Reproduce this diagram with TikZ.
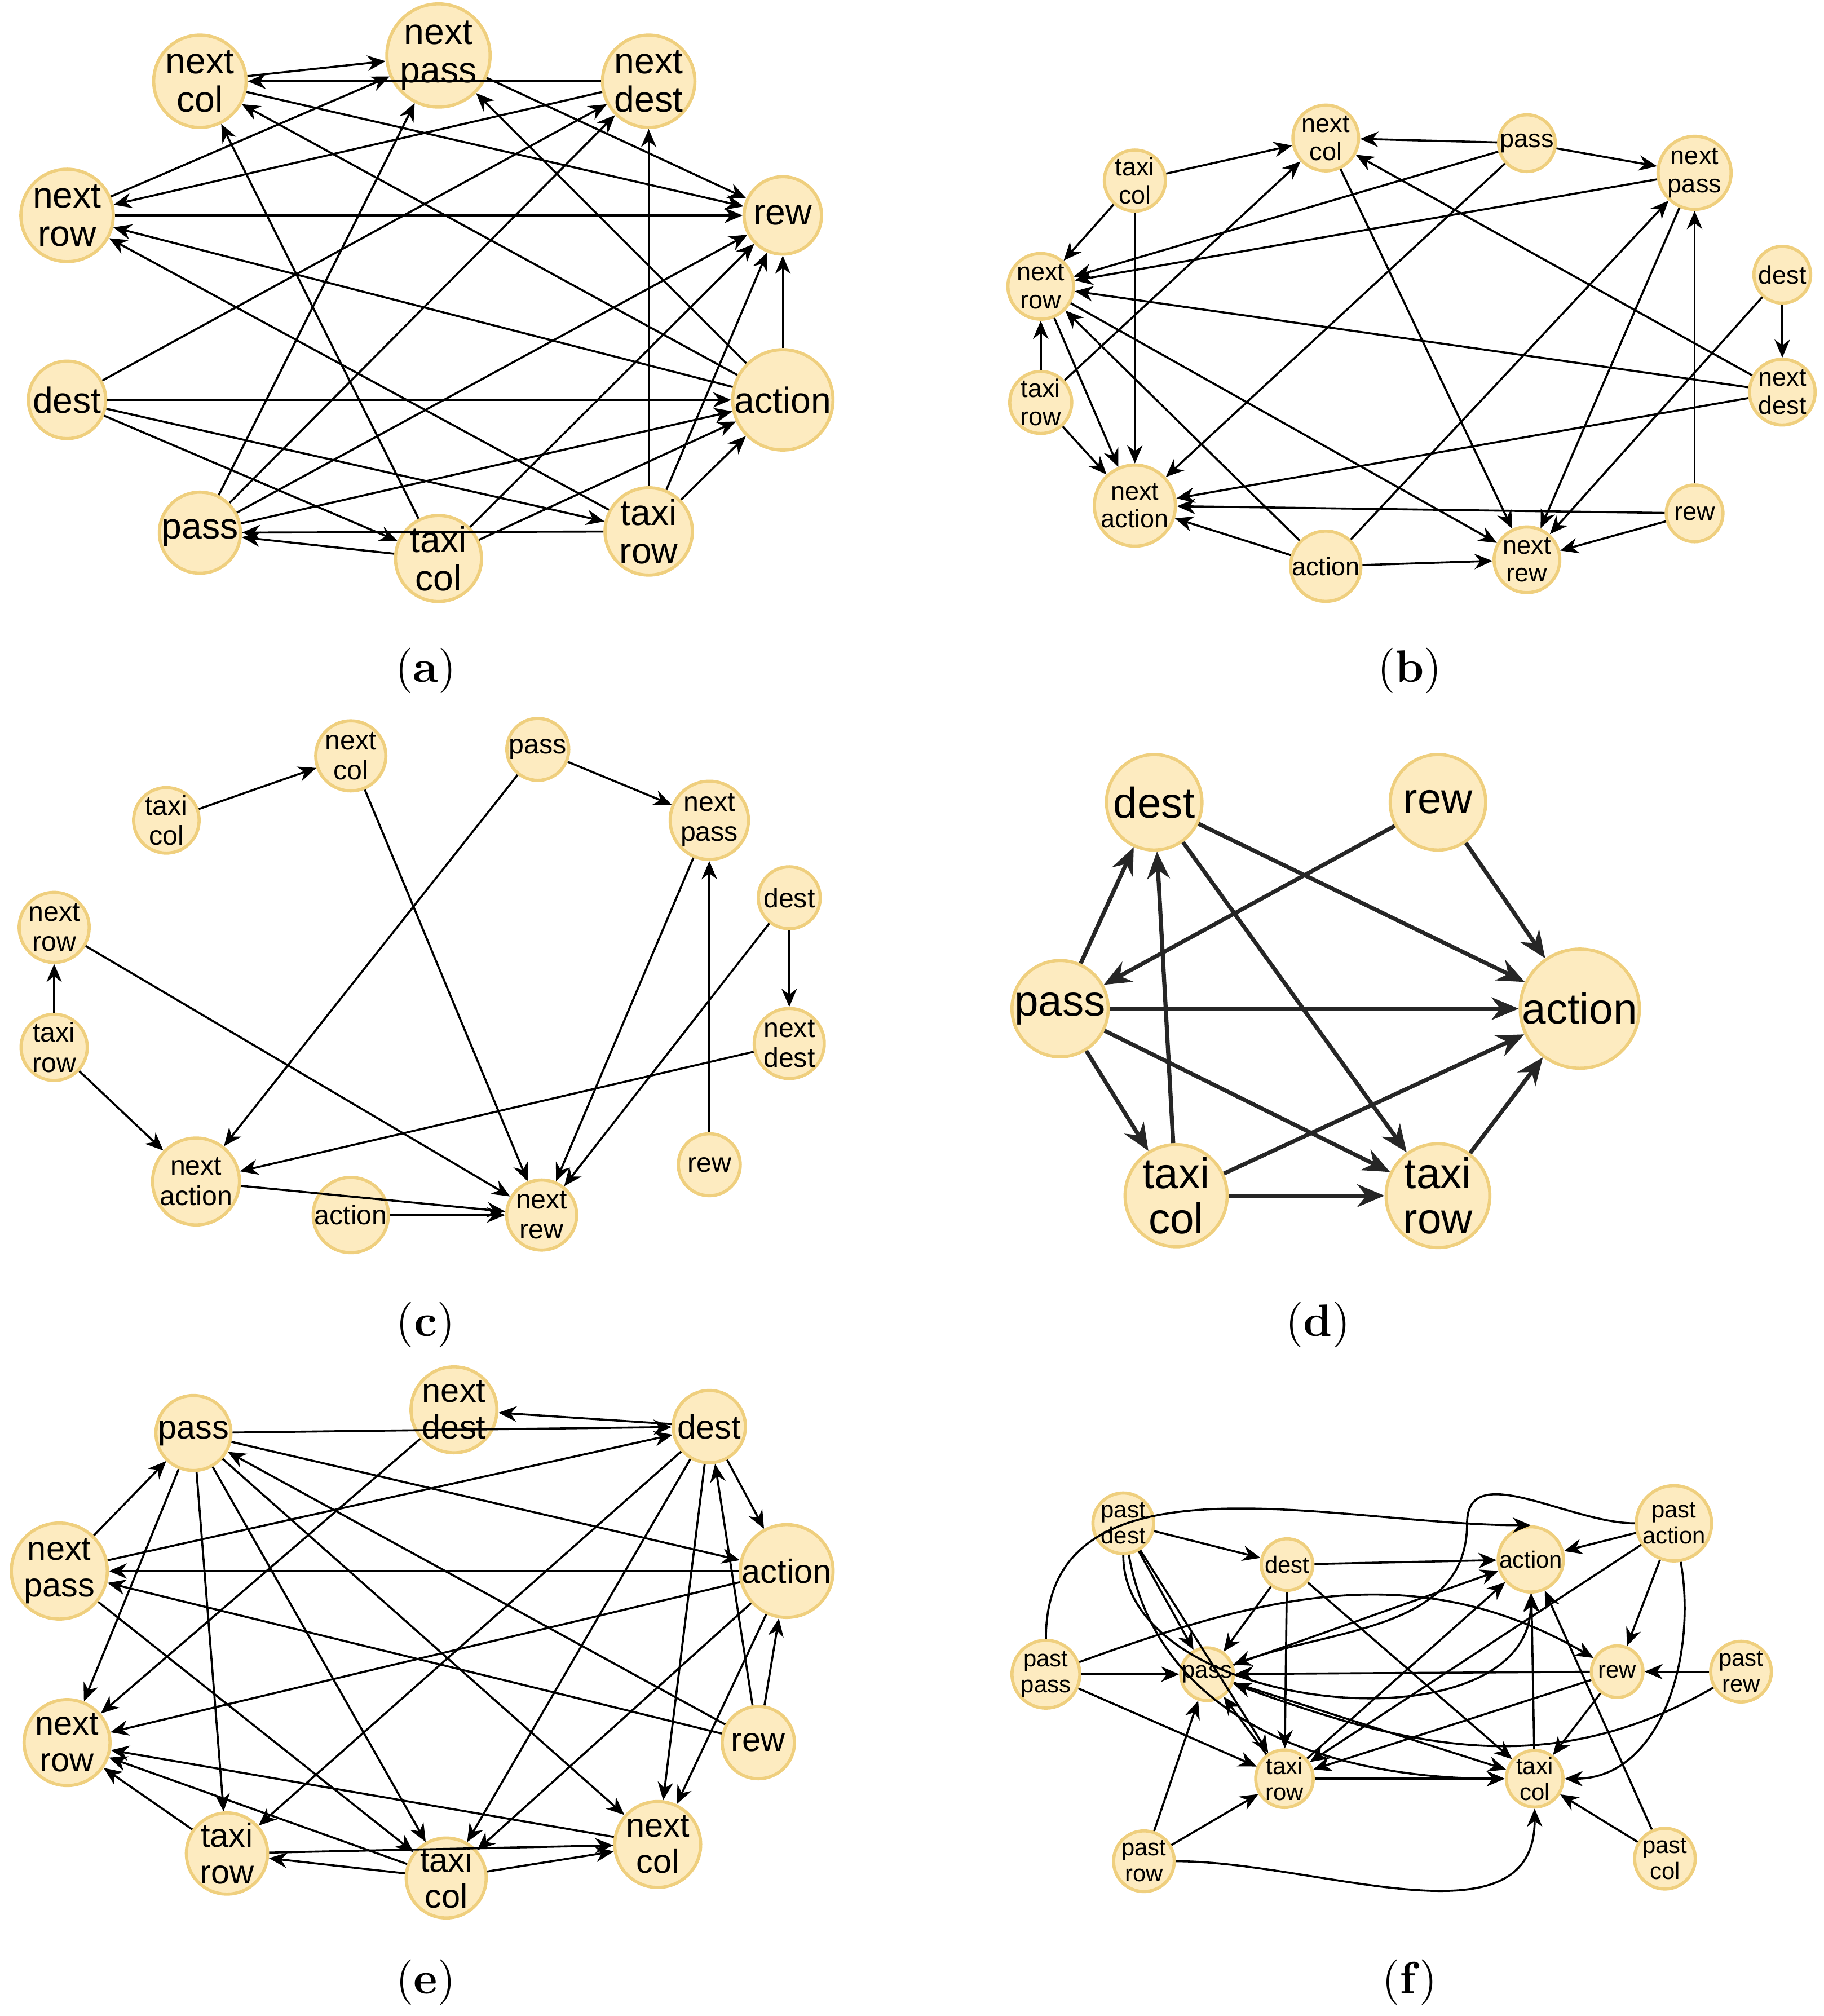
\documentclass[tikz,border=0pt]{standalone}
\usepackage{fontspec}
\setmainfont{Liberation Sans}
\newfontfamily\capfont{Latin Modern Roman}
\usetikzlibrary{arrows.meta}
\definecolor{nfill}{HTML}{FDEBC0}
\definecolor{nline}{HTML}{EFCF7E}
\begin{document}
\begin{tikzpicture}[x=0.01cm,y=-0.01cm,
 nd/.style={circle,fill=nfill,draw=nline,line width=0.7pt,inner sep=0pt,align=center,text=black},
 na/.style={nd,minimum size=0.6cm,font=\fontsize{8}{8.5}\selectfont},
 nb/.style={nd,minimum size=0.44cm,font=\fontsize{5.6}{6.2}\selectfont},
 nc/.style={nd,minimum size=0.48cm,font=\fontsize{6}{6.6}\selectfont},
 ndd/.style={nd,minimum size=0.74cm,font=\fontsize{9.5}{10}\selectfont},
 ne/.style={nd,minimum size=0.56cm,font=\fontsize{7.4}{8}\selectfont},
 nf/.style={nd,minimum size=0.4cm,font=\fontsize{5.2}{5.7}\selectfont},
 e/.style={-{Stealth[length=4pt,width=3.4pt]},line width=0.45pt},
 ed/.style={-{Stealth[length=6pt,width=5pt]},line width=0.9pt,draw=black!85},
 captxt/.style={font=\capfont\fontsize{10}{12}\selectfont}]
\useasboundingbox (0,0) rectangle (1414,1563);
% ---------- (a)
\node[na] (aNC) at (155,63) {next\\col};
\node[na] (aNP) at (340,43) {next\\pass};
\node[na] (aND) at (503,63) {next\\dest};
\node[na] (aRW) at (607,167) {rew};
\node[na] (aAC) at (607,310) {action};
\node[na] (aTR) at (503,412) {taxi\\row};
\node[na] (aTC) at (340,433) {taxi\\col};
\node[na] (aPA) at (155,413) {pass};
\node[na] (aDE) at (52,310) {dest};
\node[na] (aNR) at (52,167) {next\\row};
\foreach \a/\b in {aNC/aNP,aNC/aRW,aND/aNC,aAC/aNC,aTC/aNC,aNP/aRW,aAC/aNP,aNR/aNP,aNR/aRW,aND/aNR,aAC/aNR,aTR/aNR,aDE/aND,aDE/aAC,aDE/aTR,aDE/aTC,aPA/aNP,aPA/aRW,aPA/aAC,aTR/aPA,aTC/aPA,aPA/aND,aTC/aRW,aTC/aAC,aTR/aND,aTR/aRW,aTR/aAC,aAC/aRW}
 \draw[e] (\a) -- (\b);
\node[captxt] (capa) at (330,520) {(\textbf{a})};
% ---------- (b)
\node[nb] (bTC) at (880,140) {taxi\\col};
\node[nb] (bNC) at (1028,107) {next\\col};
\node[nb] (bPA) at (1184,111) {pass};
\node[nb] (bNP) at (1314,134) {next\\pass};
\node[nb] (bDE) at (1382,213) {dest};
\node[nb] (bND) at (1382,304) {next\\dest};
\node[nb] (bRW) at (1314,398) {rew};
\node[nb] (bNW) at (1184,434) {next\\rew};
\node[nb] (bAC) at (1028,439) {action};
\node[nb] (bNA) at (880,392) {next\\action};
\node[nb] (bTR) at (807,312) {taxi\\row};
\node[nb] (bNR) at (807,222) {next\\row};
\foreach \a/\b in {bTC/bNC,bTC/bNR,bTC/bNA,bPA/bNC,bPA/bNP,bPA/bNR,bPA/bNA,bNP/bNR,bNC/bNW,bND/bNC,bND/bNR,bND/bNA,bDE/bND,bDE/bNW,bRW/bNP,bRW/bNW,bRW/bNA,bAC/bNW,bAC/bNA,bAC/bNP,bAC/bNR,bTR/bNR,bTR/bNC,bTR/bNA,bNR/bNW,bNR/bNA,bNP/bNW}
 \draw[e] (\a) -- (\b);
\node[captxt] (capb) at (1093,520) {(\textbf{b})};
% ---------- (c)
\node[nc] (cTC) at (129,636) {taxi\\col};
\node[nc] (cNC) at (272,586) {next\\col};
\node[nc] (cPA) at (417,581) {pass};
\node[nc] (cNP) at (550,636) {next\\pass};
\node[nc] (cDE) at (612,696) {dest};
\node[nc] (cND) at (612,809) {next\\dest};
\node[nc] (cRW) at (550,903) {rew};
\node[nc] (cNW) at (420,942) {next\\rew};
\node[nc] (cAC) at (272,942) {action};
\node[nc] (cNA) at (152,916) {next\\action};
\node[nc] (cTR) at (42,812) {taxi\\row};
\node[nc] (cNR) at (42,719) {next\\row};
\foreach \a/\b in {cTC/cNC,cNC/cNW,cPA/cNP,cPA/cNA,cNP/cNW,cDE/cND,cDE/cNW,cND/cNA,cRW/cNP,cAC/cNW,cNA/cNW,cNR/cNW,cTR/cNR,cTR/cNA}
 \draw[e] (\a) -- (\b);
\node[captxt] (capc) at (330,1027) {(\textbf{c})};
% ---------- (d)
\node[ndd] (dDE) at (895,622) {dest};
\node[ndd] (dRW) at (1115,622) {rew};
\node[ndd] (dPA) at (822,782) {pass};
\node[ndd] (dAC) at (1225,782) {action};
\node[ndd] (dTC) at (912,927) {taxi\\col};
\node[ndd] (dTR) at (1115,927) {taxi\\row};
\foreach \a/\b in {dDE/dAC,dDE/dTR,dRW/dPA,dRW/dAC,dPA/dDE,dPA/dAC,dPA/dTR,dPA/dTC,dTC/dDE,dTC/dAC,dTC/dTR,dTR/dAC}
 \draw[ed] (\a) -- (\b);
\node[captxt] (capd) at (1022,1027) {(\textbf{d})};
% ---------- (e)
\node[ne] (ePA) at (150,1111) {pass};
\node[ne] (eND) at (352,1093) {next\\dest};
\node[ne] (eDE) at (550,1106) {dest};
\node[ne] (eAC) at (610,1218) {action};
\node[ne] (eRW) at (588,1351) {rew};
\node[ne] (eNC) at (510,1430) {next\\col};
\node[ne] (eTC) at (346,1456) {taxi\\col};
\node[ne] (eTR) at (176,1437) {taxi\\row};
\node[ne] (eNR) at (52,1351) {next\\row};
\node[ne] (eNP) at (46,1218) {next\\pass};
\foreach \a/\b in {eDE/eND,eNP/ePA,eNP/eDE,eNP/eTC,eAC/eNP,eRW/eNP,ePA/eDE,ePA/eAC,ePA/eNR,ePA/eTR,ePA/eNC,ePA/eTC,eRW/ePA,eND/eNR,eDE/eAC,eDE/eTR,eDE/eTC,eDE/eNC,eRW/eDE,eRW/eAC,eAC/eNC,eAC/eNR,eAC/eTC,eTC/eTR,eTC/eNC,eTC/eNR,eTR/eNR,eTR/eNC,eNC/eNR}
 \draw[e] (\a) -- (\b);
\node[captxt] (cape) at (330,1537) {(\textbf{e})};
% ---------- (f)
\node[nf] (fPD) at (871,1181) {past\\dest};
\node[nf] (fDE) at (998,1213) {dest};
\node[nf] (fAC) at (1187,1209) {action};
\node[nf] (fPA) at (1298,1181) {past\\action};
\node[nf] (fPP) at (811,1298) {past\\pass};
\node[nf] (fPS) at (936,1298) {pass};
\node[nf] (fRW) at (1254,1296) {rew};
\node[nf] (fPR) at (1350,1296) {past\\rew};
\node[nf] (fTR) at (996,1379) {taxi\\row};
\node[nf] (fTC) at (1190,1379) {taxi\\col};
\node[nf] (fPW) at (887,1443) {past\\row};
\node[nf] (fPC) at (1291,1441) {past\\col};
\foreach \a/\b in {fPD/fDE,fPD/fPS,fPD/fTR,fDE/fAC,fDE/fPS,fDE/fTR,fDE/fTC,fPA/fAC,fPA/fRW,fPA/fTR,fPP/fPS,fPP/fTR,fPS/fAC,fPS/fTC,fRW/fPS,fRW/fTC,fPR/fRW,fTR/fAC,fTR/fTC,fTR/fPS,fTC/fAC,fPW/fPS,fPW/fTR,fPC/fTC,fPC/fAC,fRW/fTR}
 \draw[e] (\a) -- (\b);
\draw[e] (fPD) to[out=-80,in=180] (fTC);
\draw[e] (fPA) to[out=-80,in=0] (fTC);
\draw[e] (fPA.west) to[out=180,in=90] ++(-130,0) to[out=-90,in=20] (fPS);
\draw[e] (fPP) to[out=90,in=180] (fAC.north);
\draw[e] (fPP) to[out=20,in=150] (fRW);
\draw[e] (fPR) to[out=-150,in=-20] (fPS);
\draw[e] (fPW) to[out=0,in=-90] (fTC.south);
\draw[e] (fPD) to[out=-90,in=-90] (fAC.south);
\node[captxt] (capf) at (1093,1537) {(\textbf{f})};
\end{tikzpicture}
\end{document}
